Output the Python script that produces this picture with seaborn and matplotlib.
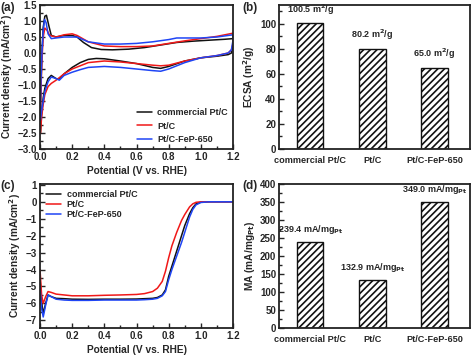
import numpy as np
import pandas as pd
import seaborn as sns
import matplotlib.pyplot as plt
from matplotlib.ticker import MultipleLocator

sns.set_style("ticks")
plt.rcParams['font.family'] = ['Liberation Sans', 'DejaVu Sans']
plt.rcParams['font.weight'] = 'bold'
plt.rcParams['axes.labelweight'] = 'bold'
plt.rcParams['hatch.linewidth'] = 1.2
plt.rcParams['hatch.color'] = '#111111'
plt.rcParams['mathtext.default'] = 'bf'

samples = ["commercial Pt/C", "Pt/C", "Pt/C-FeP-650"]
colors = ["#111111", "#f01818", "#1f45f5"]

## (a) CV curves: forward scan then reverse scan
cv_black_x = [0.0, 0.005, 0.012, 0.02, 0.03, 0.04, 0.055, 0.07, 0.1, 0.15, 0.2, 0.23, 0.27, 0.32,
              0.38, 0.45, 0.55, 0.65, 0.75, 0.85, 0.95, 1.05, 1.15, 1.2,
              1.2, 1.19, 1.17, 1.1, 1.0, 0.9, 0.8, 0.75, 0.7, 0.6, 0.5, 0.4, 0.35, 0.3, 0.25, 0.2,
              0.15, 0.12, 0.1, 0.07, 0.05, 0.03, 0.02, 0.01, 0.003]
cv_black_y = [-2.5, -1.2, 0.0, 0.8, 1.15, 1.18, 0.85, 0.55, 0.5, 0.55, 0.55, 0.5, 0.33, 0.17,
              0.11, 0.1, 0.12, 0.17, 0.25, 0.33, 0.37, 0.4, 0.43, 0.45,
              0.2, 0.0, -0.05, -0.1, -0.15, -0.25, -0.42, -0.48, -0.45, -0.33, -0.25, -0.18, -0.17,
              -0.2, -0.3, -0.45, -0.65, -0.82, -0.8, -0.7, -0.8, -1.1, -1.4, -1.9, -2.5]

cv_red_x = [0.0, 0.005, 0.012, 0.02, 0.03, 0.045, 0.06, 0.1, 0.15, 0.2, 0.23, 0.3, 0.4, 0.5,
            0.6, 0.7, 0.8, 0.9, 1.0, 1.1, 1.2,
            1.2, 1.19, 1.17, 1.1, 1.0, 0.9, 0.8, 0.75, 0.7, 0.6, 0.5, 0.4, 0.3, 0.2, 0.15, 0.1,
            0.07, 0.05, 0.03, 0.02, 0.01, 0.003]
cv_red_y = [-2.5, -1.3, -0.2, 0.5, 0.78, 0.7, 0.55, 0.5, 0.57, 0.6, 0.55, 0.35, 0.22, 0.2,
            0.2, 0.22, 0.3, 0.38, 0.45, 0.52, 0.62,
            0.3, 0.1, 0.0, -0.08, -0.15, -0.25, -0.38, -0.4, -0.38, -0.33, -0.28, -0.25, -0.3,
            -0.5, -0.65, -0.85, -0.95, -1.05, -1.3, -1.6, -2.0, -2.5]

cv_blue_x = [0.0, 0.005, 0.012, 0.02, 0.028, 0.038, 0.05, 0.07, 0.1, 0.15, 0.2, 0.23, 0.3, 0.4,
             0.5, 0.6, 0.7, 0.8, 0.85, 0.9, 1.0, 1.1, 1.2,
             1.2, 1.19, 1.17, 1.1, 1.0, 0.9, 0.8, 0.75, 0.7, 0.6, 0.5, 0.4, 0.3, 0.25, 0.2, 0.15,
             0.12, 0.1, 0.07, 0.05, 0.03, 0.02, 0.01, 0.003]
cv_blue_y = [-2.1, -1.0, 0.0, 0.7, 1.05, 0.95, 0.6, 0.45, 0.47, 0.5, 0.5, 0.5, 0.35, 0.28,
             0.28, 0.3, 0.35, 0.42, 0.47, 0.47, 0.47, 0.5, 0.57,
             0.4, 0.1, 0.0, -0.08, -0.15, -0.3, -0.5, -0.57, -0.55, -0.5, -0.45, -0.42, -0.45,
             -0.52, -0.6, -0.7, -0.85, -0.8, -0.75, -0.9, -1.2, -1.5, -1.8, -2.1]

## (c) LSV curves
lsv_x = [0.0, 0.01, 0.02, 0.035, 0.05, 0.07, 0.1, 0.15, 0.2, 0.3, 0.4, 0.5, 0.6, 0.65, 0.7,
         0.73, 0.76, 0.78, 0.8, 0.82, 0.85, 0.88, 0.9, 0.93, 0.95, 0.97, 1.0, 1.05, 1.1, 1.2]
lsv_black = [-4.5, -5.9, -6.6, -6.0, -5.5, -5.6, -5.7, -5.72, -5.75, -5.76, -5.75, -5.75,
             -5.74, -5.72, -5.7, -5.65, -5.5, -5.2, -4.4, -3.8, -2.9, -2.0, -1.4, -0.7, -0.35,
             -0.12, -0.02, 0.0, 0.0, 0.0]
lsv_red = [-4.0, -5.5, -6.0, -5.6, -5.3, -5.35, -5.45, -5.5, -5.55, -5.55, -5.52, -5.5,
           -5.47, -5.42, -5.3, -5.1, -4.7, -4.1, -3.3, -2.6, -1.8, -1.1, -0.75, -0.3, -0.12,
           -0.03, 0.0, 0.0, 0.0, 0.0]
lsv_blue = [-5.0, -6.3, -6.8, -6.1, -5.5, -5.6, -5.75, -5.8, -5.82, -5.82, -5.8, -5.8,
            -5.8, -5.78, -5.75, -5.7, -5.55, -5.3, -4.6, -4.0, -3.2, -2.4, -1.8, -0.9, -0.45,
            -0.18, -0.04, 0.0, 0.0, 0.0]

## (b) and (d) bars
ecsa = [100.5, 80.2, 65.0]
ecsa_labels = ["100.5 m$^2$/g", "80.2 m$^2$/g", "65.0 m$^2$/g"]
ma = [239.4, 132.9, 349.0]
ma_labels = ["239.4 mA/mg$_{Pt}$", "132.9 mA/mg$_{Pt}$", "349.0 mA/mg$_{Pt}$"]


fig = plt.figure(figsize=(4.74, 3.59), dpi=100)
ax_a = fig.add_axes([0.0844, 0.585, 0.4072, 0.401])
ax_b = fig.add_axes([0.5886, 0.585, 0.403, 0.401])
ax_c = fig.add_axes([0.0844, 0.0864, 0.4072, 0.401])
ax_d = fig.add_axes([0.5886, 0.0864, 0.403, 0.401])

tick_fs = 7
label_fs = 7.3


def style_axis(ax, minor_x=None, minor_y=None):
    for s in ax.spines.values():
        s.set_linewidth(1.3)
        s.set_color("#222222")
    ax.tick_params(which='both', direction='in', top=False, right=False,
                   labelsize=tick_fs, width=1.0, pad=2)
    ax.tick_params(which='major', length=3.5)
    ax.tick_params(which='minor', length=2)
    if minor_x:
        ax.xaxis.set_minor_locator(MultipleLocator(minor_x))
    if minor_y:
        ax.yaxis.set_minor_locator(MultipleLocator(minor_y))
    for t in ax.get_xticklabels() + ax.get_yticklabels():
        t.set_fontweight('bold')


# (a) CV
cv_frames = []
for name, xs, ys in zip(samples, [cv_black_x, cv_red_x, cv_blue_x], [cv_black_y, cv_red_y, cv_blue_y]):
    cv_frames.append(pd.DataFrame({'E': xs, 'j': ys, 'sample': name}))
df_cv = pd.concat(cv_frames)
sns.lineplot(data=df_cv, x='E', y='j', hue='sample', palette=colors, sort=False,
             estimator=None, units='sample', linewidth=1.1, ax=ax_a)
ax_a.set_xlim(0, 1.2)
ax_a.set_ylim(-3.0, 1.5)
ax_a.xaxis.set_major_locator(MultipleLocator(0.2))
ax_a.yaxis.set_major_locator(MultipleLocator(0.5))
ax_a.set_xlabel('Potential (V vs. RHE)', fontsize=label_fs, labelpad=3)
ax_a.set_ylabel('Current density (mA/cm$^2$)', fontsize=label_fs, labelpad=2)
ax_a.legend(loc='lower right', frameon=False, fontsize=6.5, handlelength=1.7,
            handletextpad=0.6, labelspacing=0.5, borderaxespad=0.15)
style_axis(ax_a, 0.1, 0.25)

# (c) LSV
df_lsv = pd.DataFrame({'E': lsv_x * 3, 'j': lsv_black + lsv_red + lsv_blue,
                       'sample': np.repeat(samples, len(lsv_x))})
sns.lineplot(data=df_lsv, x='E', y='j', hue='sample', palette=colors, sort=False,
             estimator=None, linewidth=1.1, ax=ax_c)
ax_c.set_xlim(0, 1.2)
ax_c.set_ylim(-7.45, 1.05)
ax_c.xaxis.set_major_locator(MultipleLocator(0.2))
ax_c.yaxis.set_major_locator(MultipleLocator(1))
ax_c.set_xlabel('Potential (V vs. RHE)', fontsize=label_fs, labelpad=3)
ax_c.set_ylabel('Current density (mA/cm$^2$)', fontsize=label_fs, labelpad=2)
ax_c.legend(loc='upper left', frameon=False, fontsize=6.5, handlelength=1.7,
            handletextpad=0.6, labelspacing=0.12, borderaxespad=0.25)
style_axis(ax_c, 0.1, 0.5)


def hatched_bars(ax, values, labels, ylim, major, minor, ylabel, offset):
    df = pd.DataFrame({'sample': samples, 'value': values})
    sns.barplot(data=df, x='sample', y='value', color='white', edgecolor='#111111',
                linewidth=1.0, width=0.43, ax=ax)
    for p in ax.patches:
        p.set_hatch('/////')
    for i, (v, lab) in enumerate(zip(values, labels)):
        ax.annotate(lab, (i, v), xytext=(0, offset), textcoords='offset points',
                    ha='center', va='bottom', fontsize=6.5, fontweight='bold')
    ax.set_xlim(-0.5, 2.57)
    ax.set_ylim(*ylim)
    ax.yaxis.set_major_locator(MultipleLocator(major))
    ax.set_xlabel('')
    ax.set_ylabel(ylabel, fontsize=label_fs, labelpad=2)
    style_axis(ax, None, minor)
    ax.tick_params(axis='x', which='both', length=0, pad=5, labelsize=6.6)


hatched_bars(ax_b, ecsa, ecsa_labels, (0, 115), 20, 10, 'ECSA (m$^2$/g)', 4.5)
hatched_bars(ax_d, ma, ma_labels, (0, 400), 50, 25, 'MA (mA/mg$_{Pt}$)', 4.5)

# panel letters
fig.text(0.0, 0.978, '(a)', fontsize=8.5, fontweight='bold', va='center')
fig.text(0.512, 0.978, '(b)', fontsize=8.5, fontweight='bold', va='center')
fig.text(0.0, 0.483, '(c)', fontsize=8.5, fontweight='bold', va='center')
fig.text(0.511, 0.483, '(d)', fontsize=8.5, fontweight='bold', va='center')

fig.savefig('out.png', dpi=100)
